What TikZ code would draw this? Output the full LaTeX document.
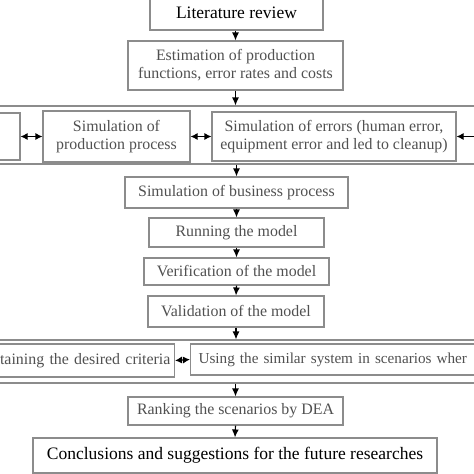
\documentclass[tikz,border=0pt]{standalone}
\usepackage{fontspec}
\setmainfont{Liberation Serif}
\usetikzlibrary{arrows.meta}
\definecolor{boxline}{HTML}{8C8C8C}
\definecolor{boxtext}{HTML}{505050}
\tikzset{
	box/.style={draw=boxline, line width=1.1pt, text=boxtext, font=\fontsize{15.9}{18}\selectfont, align=center, inner sep=0pt},
	headbox/.style={box, text=black, font=\fontsize{17.5}{20}\selectfont},
	band/.style={draw=boxline, line width=1.1pt, inner sep=0pt},
	arr/.style={-{Latex[length=8pt,width=7pt]}, line width=1.1pt},
	darr/.style={{Latex[length=7pt,width=7pt]}-{Latex[length=7pt,width=7pt]}, line width=1.1pt}
}
\begin{document}
\begin{tikzpicture}[x=1pt,y=-1pt]
		\clip (0,0) rectangle (474,474);
		\node[headbox, minimum width=173pt, minimum height=34pt] (lit) at (236.5,13) {Literature review};
		\node[box, minimum width=215pt, minimum height=49pt] (est) at (235.5,65.5) {Estimation of production\\functions, error rates and costs};
		% first row of simulations
		\node[band, minimum width=520pt, minimum height=58pt] (row1) at (237,135) {};
		\node[box, minimum width=80pt, minimum height=47pt] (left1) at (-20,136.5) {};
		\node[box, minimum width=147pt, minimum height=51pt] (prod) at (116.5,136.5) {Simulation of\\production process};
		\node[box, minimum width=244pt, minimum height=49pt] (err) at (334,136.5) {Simulation of errors (human error,\\equipment error and led to cleanup)};
		\coordinate (right1) at (485,136.5);
		\node[box, minimum width=223pt, minimum height=31pt] (bus) at (236.5,192.5) {Simulation of business process};
		\node[box, minimum width=175pt, minimum height=29pt] (run) at (236.5,232.5) {Running the model};
		\node[box, minimum width=185pt, minimum height=27pt] (ver) at (236.5,271.5) {Verification of the model};
		\node[box, minimum width=176pt, minimum height=31pt] (val) at (236,311.5) {Validation of the model};
		% second row of scenarios
		\node[band, minimum width=520pt, minimum height=43pt] (row2) at (237,361.5) {};
		\node[box, anchor=east, inner xsep=4pt, text width=232pt, align=right, minimum height=33pt] (crit) at (175,360.5) {taining the desired criteria};
		\node[box, anchor=west, inner xsep=8pt, text width=340pt, align=left, minimum height=31pt, font=\fontsize{15.2}{18}\selectfont] (use) at (190,359.5) {Using the similar system in scenarios wher};
		\node[box, minimum width=215pt, minimum height=28pt] (rank) at (235.5,411) {Ranking the scenarios by DEA};
		\node[headbox, minimum width=404pt, minimum height=35pt] (concl) at (235,455.5) {Conclusions and suggestions for the future researches};
		% arrows
		\draw[arr] (lit.south -| est.north) -- (est.north);
		\draw[arr] (est.south) -- (est.south |- row1.north);
		\draw[darr] (left1.east) -- (prod.west);
		\draw[darr] (prod.east) -- (err.west);
		\draw[darr] (err.east) -- (right1);
		\draw[arr] (bus.north |- row1.south) -- (bus.north);
		\draw[arr] (bus.south) -- (run.north);
		\draw[arr] (run.south) -- (ver.north);
		\draw[arr] (ver.south) -- (val.north);
		\draw[arr] (val.south) -- (val.south |- row2.north);
		\draw[darr] (crit.east) -- (use.west);
		\draw[arr] (rank.north |- row2.south) -- (rank.north);
		\draw[arr] (rank.south) -- (concl.north);
		\end{tikzpicture}
\end{document}
